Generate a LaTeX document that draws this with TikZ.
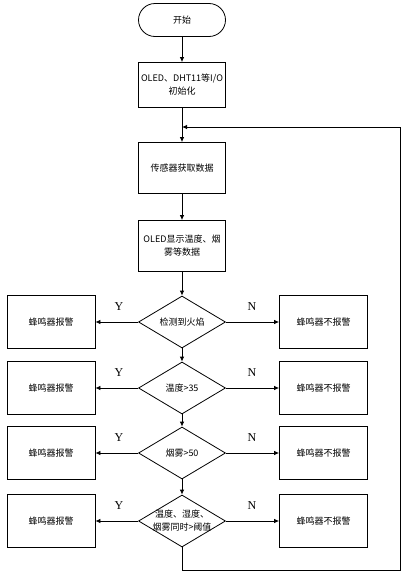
\documentclass[tikz,border=0pt]{standalone}
\usepackage{fontspec}
\newfontfamily\cjk{Noto Sans CJK SC}
\newfontfamily\yn{Liberation Serif}
\usetikzlibrary{shapes.geometric,arrows.meta}
\tikzset{
  base/.style={draw=black, line width=0.8pt, font=\cjk\fontsize{9}{13}\selectfont, align=center, inner sep=0pt},
  term/.style={base, rectangle, rounded corners=16.5pt, minimum width=87pt, minimum height=33pt},
  proc/.style={base, rectangle, minimum width=87pt, minimum height=51pt},
  side/.style={base, rectangle, minimum width=88pt, minimum height=53pt},
  dec/.style={base, diamond, minimum width=87pt, minimum height=52pt},
  yn/.style={font=\yn\fontsize{12}{12}\selectfont, inner sep=0pt},
  arr/.style={draw=black, line width=0.8pt, -{Latex[length=5pt,width=4.5pt]}},
  ln/.style={draw=black, line width=0.8pt}
}
\begin{document}
\begin{tikzpicture}[x=1pt,y=-1pt]
\useasboundingbox (0,0) rectangle (416,581);
\fill[white] (0,0) rectangle (416,581);
\node[term] (start) at (182,20) {开始};
\node[proc, minimum height=45pt] (init) at (182,85) {OLED、DHT11等I/O\\初始化};
\node[proc] (read) at (182,168) {传感器获取数据};
\node[proc] (disp) at (182,246) {OLED显示温度、烟\\雾等数据};

\node[dec, label={[base,draw=none]center:检测到火焰}] (d1) at (182,322) {};
\node[dec, label={[base,draw=none]center:温度>35}] (d2) at (182,388) {};
\node[dec, label={[base,draw=none]center:烟雾>50}] (d3) at (182,453) {};
\node[dec, label={[base,draw=none]center:温度、湿度、\\烟雾同时>阈值}] (d4) at (182,521) {};

\foreach \i/\y in {1/322,2/388,3/453,4/521}{
  \node[side] (l\i) at (51,\y) {蜂鸣器报警};
  \node[side] (r\i) at (323.5,\y) {蜂鸣器不报警};
  \draw[arr] (d\i.west) -- (l\i.east);
  \draw[arr] (d\i.east) -- (r\i.west);
  \node[yn] (y\i) at (119,\y-15) {Y};
  \node[yn] (n\i) at (252,\y-15) {N};
}

\draw[arr] (start) -- (init);
\draw[arr] (init) -- (read);
\draw[arr] (read) -- (disp);
\draw[arr] (disp) -- (d1);
\draw[arr] (d1) -- (d2);
\draw[arr] (d2) -- (d3);
\draw[arr] (d3) -- (d4);

\coordinate (b1) at (182,570);
\coordinate (b2) at (400,570);
\coordinate (b3) at (400,127);
\coordinate (b4) at (182,127);
\draw[ln] (d4.south) -- (b1) -- (b2) -- (b3);
\draw[arr] (b3) -- (b4);
\end{tikzpicture}
\end{document}
